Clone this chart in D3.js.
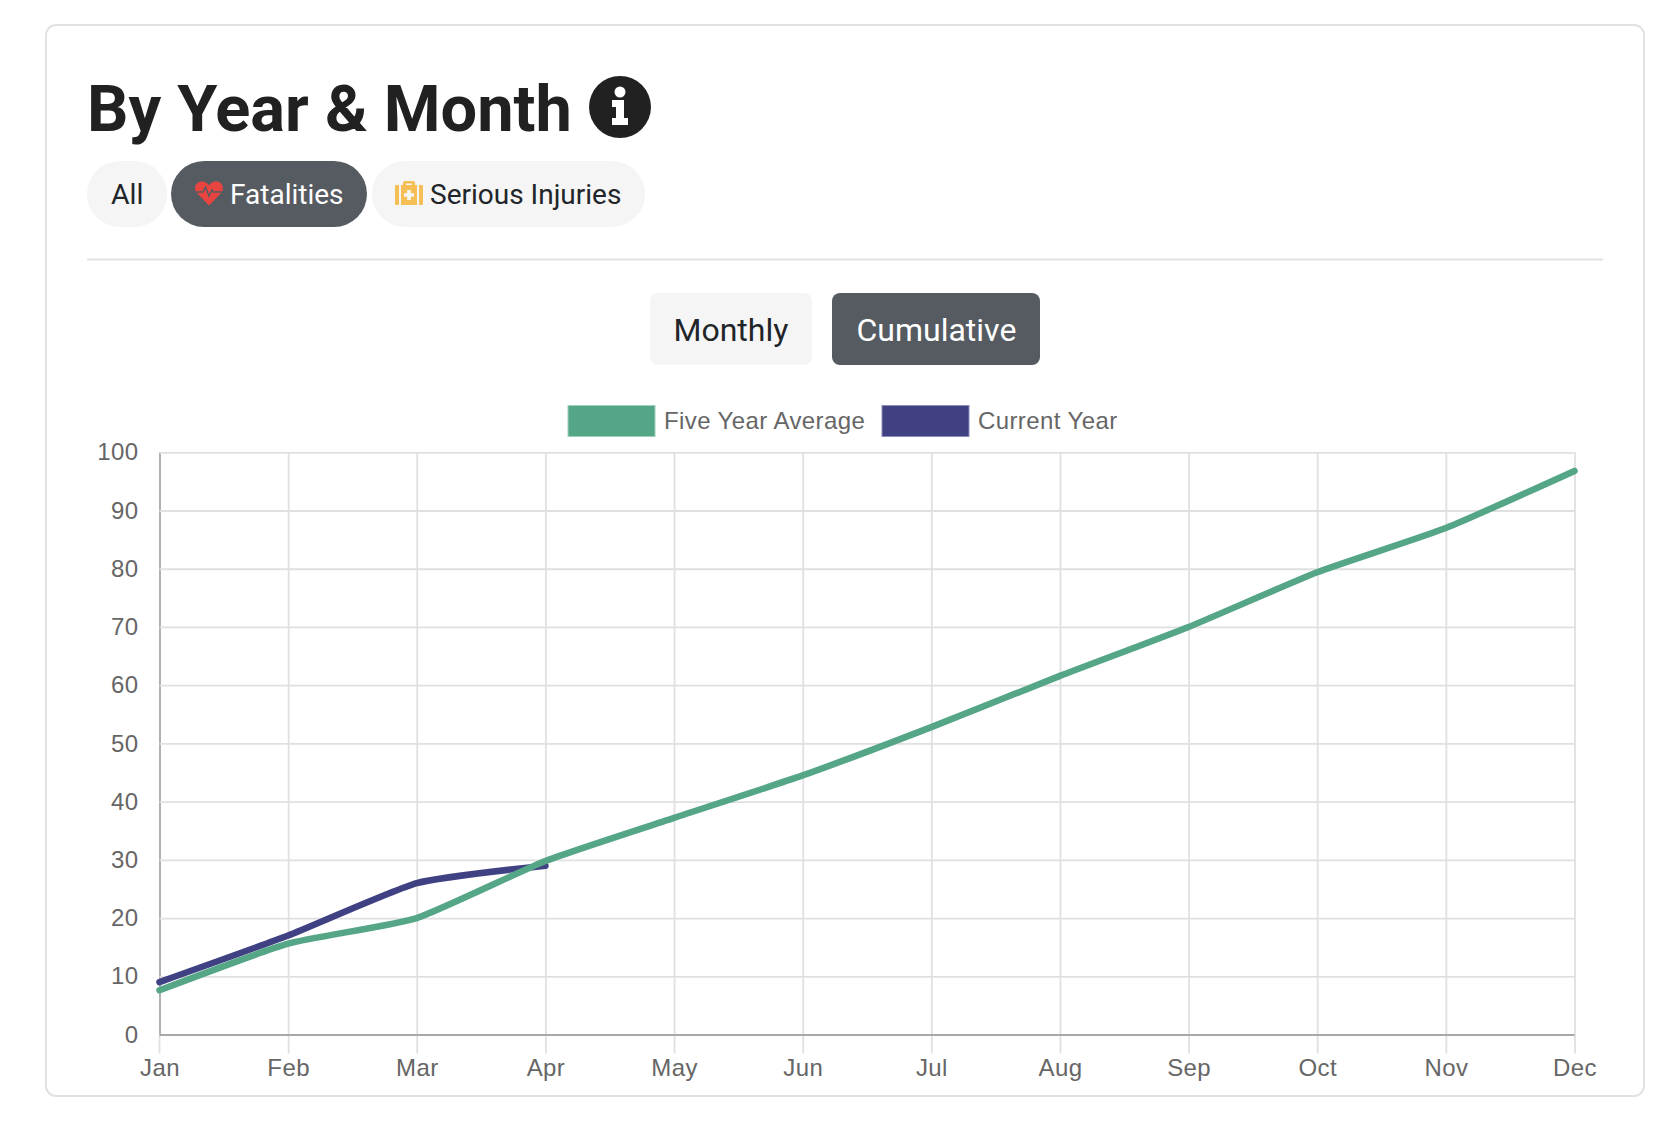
<!DOCTYPE html>
<html>
<head>
<meta charset="utf-8">
<style>
  html, body { margin: 0; background: #fff; }
  svg { display: block; }
  .axis text, .legend text { font-family: "Liberation Sans", sans-serif; fill: #666; font-size: 24px; letter-spacing: 0.4px; }
  .ui { font-family: Roboto, sans-serif; }
</style>
</head>
<body>
<div id="chart"></div>
<script src="https://d3js.org/d3.v7.min.js"></script>
<script>
// chart values
var months = ["Jan", "Feb", "Mar", "Apr", "May", "Jun", "Jul", "Aug", "Sep", "Oct", "Nov", "Dec"];
var fiveYearAverage = [7.6, 15.6, 20, 29.8, 37.2, 44.5, 52.8, 61.6, 70, 79.4, 87, 96.8];
var currentYear = [9, 17, 26, 29];
var yTicks = [0, 10, 20, 30, 40, 50, 60, 70, 80, 90, 100];
var legendLabels = ["Five Year Average", "Current Year"];
var legendColors = ["#55a687", "#3f4183"];

// plot area
var plot = {left: 159.5, right: 1574.5, top: 452.3, bottom: 1034.5};

var svg = d3.select("#chart")
  .append("svg")
    .attr("width", 1678)
    .attr("height", 1128);

// card
svg.append("rect")
    .attr("x", 46).attr("y", 25)
    .attr("width", 1598).attr("height", 1071)
    .attr("rx", 10)
    .attr("fill", "#fff")
    .attr("stroke", "#e2e2e2")
    .attr("stroke-width", 2);

// title + info icon
svg.append("text")
    .attr("class", "ui")
    .attr("x", 87).attr("y", 131)
    .attr("font-size", 64.9).attr("font-weight", 700)
    .attr("fill", "#212121")
    .text("By Year & Month");

var info = svg.append("g").attr("transform", "translate(620,107)");
info.append("circle").attr("r", 31).attr("fill", "#212121");
info.append("circle").attr("cy", -15).attr("r", 5.5).attr("fill", "#fff");
info.append("path")
    .attr("d", "M-8,-7H4V11H8V18H-8V11H-4V0H-8Z")
    .attr("fill", "#fff");

// pills at the top
function button(x, y, w, h, r, fill) {
  svg.append("rect")
      .attr("x", x).attr("y", y)
      .attr("width", w).attr("height", h)
      .attr("rx", r)
      .attr("fill", fill);
}
function label(x, y, size, color, txt) {
  svg.append("text")
      .attr("class", "ui")
      .attr("x", x).attr("y", y)
      .attr("font-size", size)
      .attr("fill", color)
      .text(txt);
}

button(87, 161, 80, 66, 33, "#f5f5f5");
button(171, 161, 196, 66, 33, "#565b62");
button(372, 161, 273, 66, 33, "#f5f5f5");
label(111, 204, 28.5, "#212529", "All");
label(230, 204, 28, "#fff", "Fatalities");
label(430, 204, 28, "#212529", "Serious Injuries");

// heart with pulse
var heart = svg.append("g").attr("transform", "translate(209,193)");
heart.append("path")
    .attr("d", "M0,12.5L-12,0C-15.5,-4 -14,-10.5 -8,-11.5C-4.5,-12 -1.5,-10 0,-7.5C1.5,-10 4.5,-12 8,-11.5C14,-10.5 15.5,-4 12,0Z")
    .attr("fill", "#ea4440");
heart.append("path")
    .attr("d", "M-13,-1H-6L-3.5,-6L0,3L3,-3L4.5,-1H13")
    .attr("fill", "none")
    .attr("stroke", "#565b62")
    .attr("stroke-width", 1.5);

// first aid case
var kit = svg.append("g").attr("transform", "translate(409,193)");
kit.append("path")
    .attr("d", "M-14,-7Q-14,-8 -13,-8H-10V12H-13Q-14,12 -14,11ZM10,-8H13Q14,-8 14,-7V11Q14,12 13,12H10ZM-8,-8H-6V-10Q-6,-12 -4,-12H4Q6,-12 6,-10V-8H8V12H-8ZM-3,-8H3V-9.5H-3Z")
    .attr("fill", "#f5bf55");
kit.append("path")
    .attr("d", "M-1.8,-3H1.8V0.2H5V3.8H1.8V7H-1.8V3.8H-5V0.2H-1.8Z")
    .attr("fill", "#f5f5f5");

// divider
svg.append("line")
    .attr("x1", 87).attr("x2", 1603)
    .attr("y1", 259.5).attr("y2", 259.5)
    .attr("stroke", "#e2e2e2")
    .attr("stroke-width", 2);

// monthly / cumulative toggle
button(650, 293, 162, 72, 8, "#f5f5f5");
button(832, 293, 208, 72, 8, "#565b62");
label(673.5, 341, 32, "#212529", "Monthly");
label(856.5, 341, 32, "#fff", "Cumulative");

// scales
var x = d3.scalePoint()
    .domain(months)
    .range([plot.left, plot.right]);
var y = d3.scaleLinear()
    .domain([0, 100])
    .range([plot.bottom, plot.top]);

// axes, ticks double as the grid
var gy = svg.append("g")
    .attr("class", "axis")
    .attr("transform", "translate(" + plot.left + ",0)")
    .call(d3.axisLeft(y).tickValues(yTicks).tickSize(19).tickPadding(2));
gy.select(".domain").remove();
gy.selectAll("line")
    .attr("x2", plot.right - plot.left)
    .attr("stroke", function(d) { return d === 0 ? "#a8a8a8" : "#e0e0e0"; })
    .attr("stroke-width", 1.8);

var gx = svg.append("g")
    .attr("class", "axis")
    .attr("transform", "translate(0," + plot.bottom + ")")
    .call(d3.axisBottom(x).tickSize(19).tickPadding(5));
gx.select(".domain").remove();
gx.selectAll("line")
    .attr("y1", plot.top - plot.bottom)
    .attr("stroke", "#e0e0e0")
    .attr("stroke-width", 1.8);
gx.select(".tick line")
    .attr("y2", 0)
    .attr("stroke", "#a8a8a8");
svg.append("line")
    .attr("x1", x("Jan")).attr("x2", x("Jan"))
    .attr("y1", plot.bottom).attr("y2", plot.bottom + 19)
    .attr("stroke", "#e0e0e0")
    .attr("stroke-width", 1.8);
// zero line sits above the vertical grid
gy.select(".tick line").raise();
gy.raise();

// lines
var line = d3.line()
    .curve(d3.curveCardinal.tension(0.5))
    .x(function(d, i) { return x(months[i]); })
    .y(function(d) { return y(d); });

svg.append("path")
    .datum(currentYear)
    .attr("fill", "none")
    .attr("stroke", legendColors[1])
    .attr("stroke-width", 6.5)
    .attr("stroke-linecap", "round")
    .attr("d", line);
svg.append("path")
    .datum(fiveYearAverage)
    .attr("fill", "none")
    .attr("stroke", legendColors[0])
    .attr("stroke-width", 6.5)
    .attr("stroke-linecap", "round")
    .attr("d", line);

// legend
var legendX = [568, 882];
var legend = svg.append("g").attr("class", "legend");
legendLabels.forEach(function(name, i) {
  legend.append("rect")
      .attr("x", legendX[i]).attr("y", 405.5)
      .attr("width", 87).attr("height", 31)
      .attr("fill", legendColors[i])
      .attr("stroke", i === 0 ? "#9fd0bd" : "#8c8db8")
      .attr("stroke-width", 1);
  legend.append("text")
      .attr("x", legendX[i] + 96).attr("y", 429)
      .text(name);
});
</script>
</body>
</html>
